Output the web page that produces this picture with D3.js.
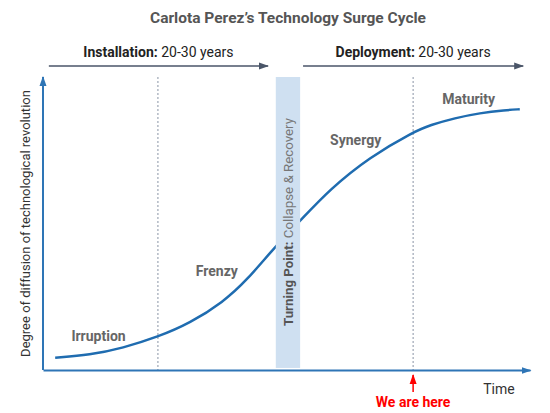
<!DOCTYPE html>
<html><head><meta charset="utf-8">
<script src="https://cdn.jsdelivr.net/npm/d3@7"></script>
<style>
body{margin:0;background:#fff;}
svg{font-family:Roboto, "Open Sans", sans-serif;}
</style></head>
<body><svg id="chart" width="550" height="413"></svg>
<script>
// ---- data ----
const curveT = [2.5, 9.6, 16.4, 23.6, 30.2, 37.0, 41.9, 47.6, 52.8, 58.9, 67.1, 76.0, 79.5, 84.6, 89.7, 94.9, 97.9];
const curveD = [4.2, 5.1, 7.5, 11.3, 16.0, 23.2, 30.7, 42.0, 50.9, 61.7, 72.7, 81.2, 83.6, 86.0, 87.7, 88.7, 89.0];
const phaseNames = ["Irruption", "Frenzy", "Synergy", "Maturity"];
const phaseT = [11.4, 35.7, 64.2, 87.4];
const phaseD = [11.3, 33.4, 78.2, 92.2];
const dividerT = [23.6, 76];
const turningStart = 47.8, turningEnd = 52.8;
const periodNames = ["Installation:", "Deployment:"];
const periodSpans = ["20-30 years", "20-30 years"];
const periodFrom = [1.2, 53.4];
const periodTo = [46.2, 98.6];
const hereT = 76;

// ---- layout ----
const svg = d3.select("#chart");
const x = d3.scaleLinear().domain([0, 100]).range([43, 530]);
const y = d3.scaleLinear().domain([0, 100]).range([370, 77]);
const axisColor = "#2e75b6";

const defs = svg.append("defs");
function marker(id, color, size) {
  defs.append("marker").attr("id", id).attr("viewBox", "0 0 10 10")
    .attr("refX", 9).attr("refY", 5).attr("markerWidth", size).attr("markerHeight", size)
    .attr("orient", "auto-start-reverse").attr("markerUnits", "userSpaceOnUse")
    .append("path").attr("d", "M0,1.5 L10,5 L0,8.5 Z").attr("fill", color);
}
marker("ax", axisColor, 10);
marker("gr", "#4a5568", 10);
marker("rd", "#ff0000", 10);

// title
svg.append("text").attr("x", 288).attr("y", 23).attr("text-anchor", "middle")
  .attr("font-size", 15.5).attr("font-weight", "bold").attr("fill", "#555")
  .text("Carlota Perez\u2019s Technology Surge Cycle");

// period arrows
periodNames.forEach((n, i) => {
  svg.append("line").attr("x1", x(periodFrom[i])).attr("x2", x(periodTo[i]))
    .attr("y1", 66).attr("y2", 66).attr("stroke", "#4a5568").attr("stroke-width", 1.5)
    .attr("marker-end", "url(#gr)");
  const t = svg.append("text").attr("x", (x(periodFrom[i]) + x(periodTo[i])) / 2).attr("y", 57)
    .attr("text-anchor", "middle").attr("font-size", 14).attr("fill", "#222");
  t.append("tspan").attr("font-weight", "bold").text(n);
  t.append("tspan").text(" " + periodSpans[i]);
});

// divider lines
svg.selectAll("line.div").data(dividerT).join("line").attr("class", "div")
  .attr("x1", d => x(d)).attr("x2", d => x(d)).attr("y1", y(100)).attr("y2", y(0))
  .attr("stroke", "#8a94a6").attr("stroke-width", 1).attr("stroke-dasharray", "2,2");

// curve
const pts = curveT.map((t, i) => [t, curveD[i]]);
svg.append("path").datum(pts)
  .attr("d", d3.line().x(d => x(d[0])).y(d => y(d[1])).curve(d3.curveBasis))
  .attr("fill", "none").attr("stroke", "#1f6cb0").attr("stroke-width", 2.5);

// turning band
svg.append("rect").attr("x", x(turningStart)).attr("width", x(turningEnd) - x(turningStart))
  .attr("y", y(100)).attr("height", y(0.7) - y(100)).attr("fill", "#cfe0f1");
const tp = svg.append("text")
  .attr("transform", `translate(${(x(turningStart) + x(turningEnd)) / 2 + 5},${y(50.5)}) rotate(-90)`)
  .attr("text-anchor", "middle").attr("font-size", 13.3);
tp.append("tspan").attr("font-weight", "bold").attr("fill", "#555").text("Turning Point:");
tp.append("tspan").attr("fill", "#777").text(" Collapse & Recovery");

// axes
const xAxis = svg.append("g").attr("transform", `translate(0,${y(0)})`)
  .call(d3.axisBottom(x).ticks(0).tickSize(0).tickSizeOuter(0));
xAxis.select(".domain").attr("stroke", axisColor).attr("stroke-width", 2).attr("marker-end", "url(#ax)");
const yAxis = svg.append("g").attr("transform", `translate(${x(0)},0)`)
  .call(d3.axisLeft(y).ticks(0).tickSize(0).tickSizeOuter(0));
yAxis.select(".domain").attr("stroke", axisColor).attr("stroke-width", 2)
  .attr("d", `M0,${y(0)}V${y(100)}`).attr("marker-end", "url(#ax)");

// axis titles
svg.append("text").attr("transform", `translate(30,${y(50)}) rotate(-90)`)
  .attr("text-anchor", "middle").attr("font-size", 13).attr("fill", "#333")
  .text("Degree of diffusion of technological revolution");
svg.append("text").attr("x", 499).attr("y", 394).attr("text-anchor", "middle")
  .attr("font-size", 14).attr("fill", "#333").text("Time");

// phase labels
svg.selectAll("text.ph").data(phaseNames).join("text").attr("class", "ph")
  .attr("x", (d, i) => x(phaseT[i])).attr("y", (d, i) => y(phaseD[i]))
  .attr("font-size", 14).attr("font-weight", "bold").attr("fill", "#666")
  .attr("text-anchor", "middle").attr("dominant-baseline", "middle").text(d => d);

// we are here
svg.append("line").attr("x1", x(hereT)).attr("x2", x(hereT)).attr("y1", 392).attr("y2", 375)
  .attr("stroke", "#ff0000").attr("stroke-width", 1.5).attr("marker-end", "url(#rd)");
svg.append("text").attr("x", x(hereT)).attr("y", 407).attr("text-anchor", "middle")
  .attr("font-size", 14).attr("font-weight", "bold").attr("fill", "#ff0000").text("We are here");
</script></body></html>
